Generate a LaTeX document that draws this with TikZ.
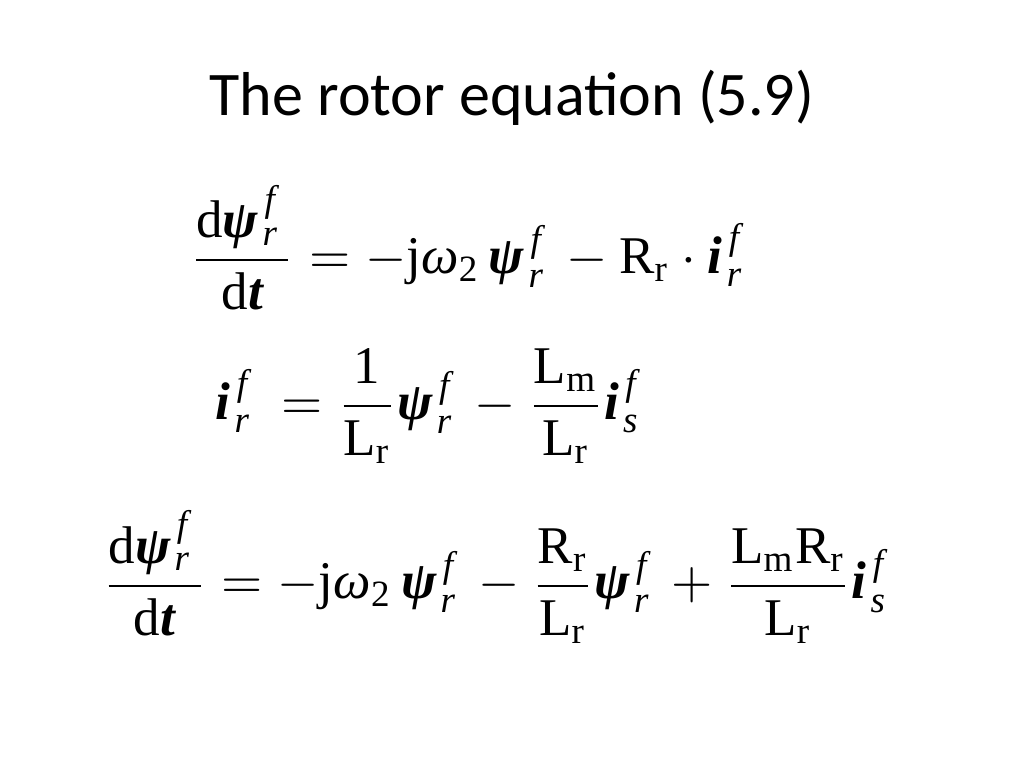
\documentclass[tikz,border=0pt]{standalone}
\usepackage{amsmath}
\usepackage{fontspec}
\newfontfamily\tm{Liberation Serif}
\newfontfamily\titlefont{Carlito}
\newcommand\tbf[1]{\text{\tm\bfseries\itshape #1}}
\newcommand\tit[1]{\text{\tm\itshape #1}}
\newcommand\trm[1]{\text{\tm #1}}
\newcommand\bpsi{\tbf{ψ}}
\newcommand\bii{\tbf{i}}
\newcommand\ps[1]{{\bpsi}_{\kern0.8pt\tit{#1}}^{\kern1.2pt\tit{f}}\,}
\newcommand\ii[1]{{\bii}_{\kern0.8pt\tit{#1}}^{\kern1.2pt\tit{f}}}
\tikzset{eq/.style={inner sep=0pt,scale=5.3}}
\begin{document}
\begin{tikzpicture}[x=1pt,y=-1pt]
\useasboundingbox (0,0) rectangle (1024,768);
\node[inner sep=0pt] (title) at (512,98) {\fontsize{62}{70}\selectfont\titlefont The rotor equation (5.9)};
\node[eq] (e1) at (467,248) {$\displaystyle\frac{\trm{d}\ps{r}}{\trm{d}\tbf{t}}=-\trm{j}\tit{ω}_{\trm{2}}\,\ps{r}-\trm{R}_{\trm{r}}\cdot\ii{r}$};
\node[eq] (e2) at (428,406) {$\displaystyle\ii{r}\;=\frac{\trm{1}}{\trm{L}_{\trm{r}}}\ps{r}-\frac{\trm{L}_{\trm{m}}}{\trm{L}_{\trm{r}}}\ii{s}$};
\node[eq] (e3) at (495,577) {$\displaystyle\frac{\trm{d}\ps{r}}{\trm{d}\tbf{t}}=-\trm{j}\tit{ω}_{\trm{2}}\,\ps{r}-\frac{\trm{R}_{\trm{r}}}{\trm{L}_{\trm{r}}}\ps{r}+\frac{\trm{L}_{\trm{m}}\trm{R}_{\trm{r}}}{\trm{L}_{\trm{r}}}\ii{s}$};
\end{tikzpicture}
\end{document}
